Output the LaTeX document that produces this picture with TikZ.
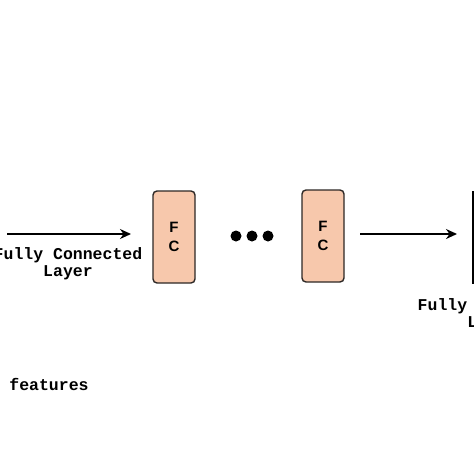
\documentclass[tikz,border=0pt]{standalone}
\usepackage{fontspec}
\setmainfont{Liberation Sans}
\setmonofont{Liberation Mono}
\usetikzlibrary{arrows.meta}
\definecolor{peach}{RGB}{247,200,172}
\definecolor{edge}{RGB}{45,40,38}
\tikzset{
  fcbox/.style={draw=edge, line width=1.4pt, fill=peach, rounded corners=4pt,
    minimum width=42pt, minimum height=92pt, inner sep=0pt,
    font=\fontsize{15}{19.5}\selectfont\bfseries, align=center},
  lbl/.style={font=\fontsize{16.5}{17}\selectfont\ttfamily\bfseries, align=center, inner sep=0pt},
  arr/.style={line width=1.8pt, -{Stealth[length=11pt,width=10pt]}},
  dot/.style={circle, fill=black, minimum size=11pt, inner sep=0pt}
}
\begin{document}
\begin{tikzpicture}[x=1pt,y=-1pt]
\useasboundingbox (0,0) rectangle (474,474);
\clip (0,0) rectangle (474,474);
\fill[white] (0,0) rectangle (474,474);
\node[fcbox] (fc1) at (174,237) {F\\C};
\node[fcbox] (fc2) at (323,236) {F\\C};
\node[draw=black, line width=3pt, minimum width=60pt, minimum height=90pt] (out) at (503.5,237.5) {};
\node[dot] (d1) at (236,236) {};
\node[dot] (d2) at (252,236) {};
\node[dot] (d3) at (268,236) {};
\coordinate (in) at (7,234);
\coordinate (a1) at (131,234);
\coordinate (b0) at (360,234);
\coordinate (b1) at (457,234);
\draw[arr] (in) -- (a1);
\draw[arr] (b0) -- (b1);
\node[lbl] (l1) at (68,263.5) {Fully Connected\\Layer};
\node[lbl] (l2) at (492,315) {Fully Connected\\Layer};
\node[lbl] (feat) at (49,384) {features};
\end{tikzpicture}
\end{document}
